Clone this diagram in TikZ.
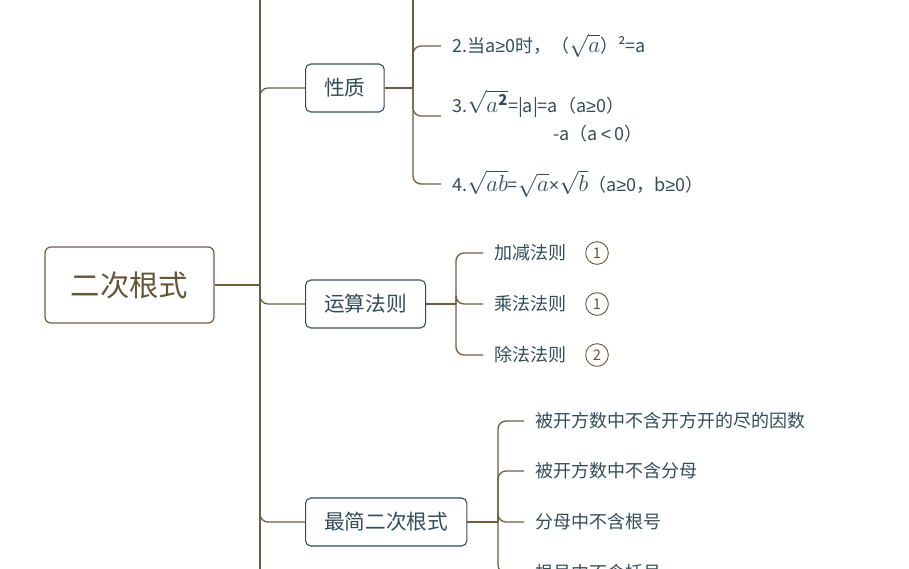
\documentclass[tikz,border=0pt]{standalone}
\usepackage{fontspec}
\setmainfont{Noto Sans CJK SC}
\newfontfamily\symfont{Liberation Sans}
\usepackage{tikz}
\usetikzlibrary{calc}
\definecolor{stem}{RGB}{110,94,64}
\definecolor{slate}{RGB}{50,76,90}
\definecolor{rootbrown}{RGB}{102,86,56}
\tikzset{
  rootbox/.style={draw=stem, line width=0.9pt, rounded corners=4.5pt, minimum width=126.75pt, minimum height=57pt, text=rootbrown, font=\fontsize{22}{26}\selectfont},
  topicbox/.style={draw=slate, line width=0.8pt, rounded corners=4pt, anchor=west, minimum height=36pt, inner xsep=14pt, text=slate, font=\fontsize{15.5}{18}\selectfont},
  leaf/.style={anchor=west, inner xsep=8.25pt, inner ysep=2pt, text=slate, align=left, font=\fontsize{13.5}{21}\selectfont},
  badge/.style={circle, draw=stem, line width=0.7pt, minimum size=17pt, inner sep=0pt, text=rootbrown, font=\fontsize{11}{12}\selectfont},
  limb/.style={draw=stem, line width=1.4pt},
  twig/.style={draw=stem, line width=1pt, rounded corners=6pt}
}
\def\twig(#1)(#2){\draw[twig] (#1) |- (#2.west);}
\def\geq{{\symfont ≥}}
\def\rt#1{{\fontsize{16}{21}\selectfont$\sqrt{#1}$}}

\begin{document}
\begin{tikzpicture}[x=0.75pt, y=-0.75pt]
			%%%%% START %%%%%
			\useasboundingbox (0,0) rectangle (909,568);
			\clip (0,0) rectangle (909,568);
			
			\node[rootbox] (root) at (129.5,285) {二次根式};
			\coordinate (trunk) at (260,285);
			\coordinate (trunktop) at (260,-10);
			\coordinate (trunkbot) at (260,580);
			\draw[limb] (root.east) -- (trunk);
			\draw[twig] (trunktop) -- (trunkbot);
			
			\node[topicbox] (xingzhi) at (305,88) {性质};
			\node[topicbox] (yunsuan) at (305,304) {运算法则};
			\node[topicbox] (zuijian) at (305,522) {最简二次根式};
			\twig(trunk)(xingzhi)
			\twig(trunk)(yunsuan)
			\twig(trunk)(zuijian)
			
			% properties
			\coordinate (xz) at (413,88);
			\coordinate (xztop) at (413,-10);
			\draw[limb] (xingzhi.east) -- (xz);
			\draw[twig] (xz) -- (xztop);
			\node[leaf] (xz2) at (441,46) {2.当a\geq0时，（\rt{a}）²=a};
			\node[leaf] (xz3) at (441,116) {3.\rt{a^{\mathbf{2}}}=|a|=a（a\geq0）\\\hspace*{75.75pt}-a（a{\symfont\,<\,}0）};
			\node[leaf] (xz4) at (441,184) {4.\rt{ab}=\rt{a}{\symfont ×}\rt{b}（a\geq0，b\geq0）};
			\twig(xz)(xz2)
			\twig(xz)(xz3)
			\twig(xz)(xz4)
			
			% rules
			\coordinate (ys) at (456,304);
			\draw[limb] (yunsuan.east) -- (ys);
			\node[leaf] (ys1) at (483,253) {加减法则};
			\node[leaf] (ys2) at (483,304) {乘法法则};
			\node[leaf] (ys3) at (483,355) {除法法则};
			\twig(ys)(ys1)
			\twig(ys)(ys2)
			\twig(ys)(ys3)
			\node[badge] (b1) at (597,253) {1};
			\node[badge] (b2) at (597,304) {1};
			\node[badge] (b3) at (597,355) {2};
			
			% simplest form
			\coordinate (zj) at (498,522);
			\draw[limb] (zuijian.east) -- (zj);
			\node[leaf] (zj1) at (524,421) {被开方数中不含开方开的尽的因数};
			\node[leaf] (zj2) at (524,471) {被开方数中不含分母};
			\node[leaf] (zj3) at (524,522) {分母中不含根号};
			\node[leaf] (zj4) at (524,573) {根号中不含括号};
			\twig(zj)(zj1)
			\twig(zj)(zj2)
			\twig(zj)(zj3)
			\twig(zj)(zj4)
			
			%%%%% END %%%%%
\end{tikzpicture}
\end{document}
